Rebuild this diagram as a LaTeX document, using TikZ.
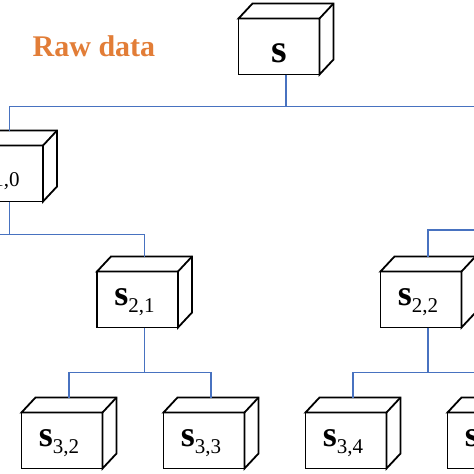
\documentclass[tikz,border=0pt]{standalone}
\usepackage{fontspec}
\setmainfont{Liberation Serif}
\usetikzlibrary{calc}
\definecolor{linkblue}{RGB}{72,114,192}
\definecolor{rawor}{RGB}{226,125,55}
\newcommand\subl[1]{s\raisebox{-7pt}{\fontsize{21}{21}\selectfont\mdseries #1}\kern6pt}
\begin{document}
\begin{tikzpicture}[x=1pt,y=-1pt,
  boxline/.style={draw=black,line width=1.8pt,line join=miter},
  box/.style={boxline,fill=white,minimum width=81pt,minimum height=56pt,inner sep=0pt,outer sep=0pt,
    text height=11pt,text depth=0pt,font=\fontsize{36}{36}\selectfont\bfseries},
  link/.style={draw=linkblue,line width=1.4pt}]
\useasboundingbox (0,0) rectangle (474,474);
\clip (0,0) rectangle (474,474);
\fill[white] (0,0) rectangle (474,474);

\node[font=\fontsize{30}{30}\selectfont\bfseries,text=rawor,anchor=base] (raw) at (94,56) {Raw data};

\node[box,text height=31pt,font=\fontsize{40}{40}\selectfont\bfseries] (s) at (279,46.5) {s};
\node[box] (s10) at (2.5,173.5) {\subl{1,0}};
\node[box] (s21) at (137.5,299.5) {\subl{2,1}};
\node[box] (s22) at (421,299.5) {\subl{2,2}};
\node[box] (s32) at (62,440.5) {\subl{3,2}};
\node[box] (s33) at (204,440.5) {\subl{3,3}};
\node[box] (s34) at (346,440.5) {\subl{3,4}};
\node[box] (s35) at (488,440.5) {\subl{3,5}};

\foreach \n in {s,s10,s21,s22,s32,s33,s34,s35}{
  \filldraw[boxline,fill=white] (\n.north west) -- ++(14,-15) -- ($(\n.north east)+(14,-15)$)
     -- ($(\n.south east)+(14,-15)$) -- (\n.south east) -- (\n.north east) -- cycle;
  \draw[boxline] (\n.north east) -- ++(14,-15);
  \coordinate (\n t) at ($(\n.north)+(7,-15)$);
  \coordinate (\n b) at ($(\n.south)+(7,0)$);
}
% off-picture ends
\coordinate (s11t) at (564,130);
\coordinate (s11b) at (564,202);
\coordinate (s20t) at (-130,256);
\coordinate (s23t) at (710,256);

\draw[link] (sb) -- ++(0,32) -| (s10t);
\draw[link] (sb) -- ++(0,32) -| (s11t);
\draw[link] (s10b) -- ++(0,33) -| (s21t);
\draw[link] (s10b) -- ++(0,33) -| (s20t);
\draw[link] (s11b) -- ++(0,28) -| (s22t);
\draw[link] (s11b) -- ++(0,28) -| (s23t);
\draw[link] (s21b) -- ++(0,45) -| (s32t);
\draw[link] (s21b) -- ++(0,45) -| (s33t);
\draw[link] (s22b) -- ++(0,45) -| (s34t);
\draw[link] (s22b) -- ++(0,45) -| (s35t);
\end{tikzpicture}
\end{document}
